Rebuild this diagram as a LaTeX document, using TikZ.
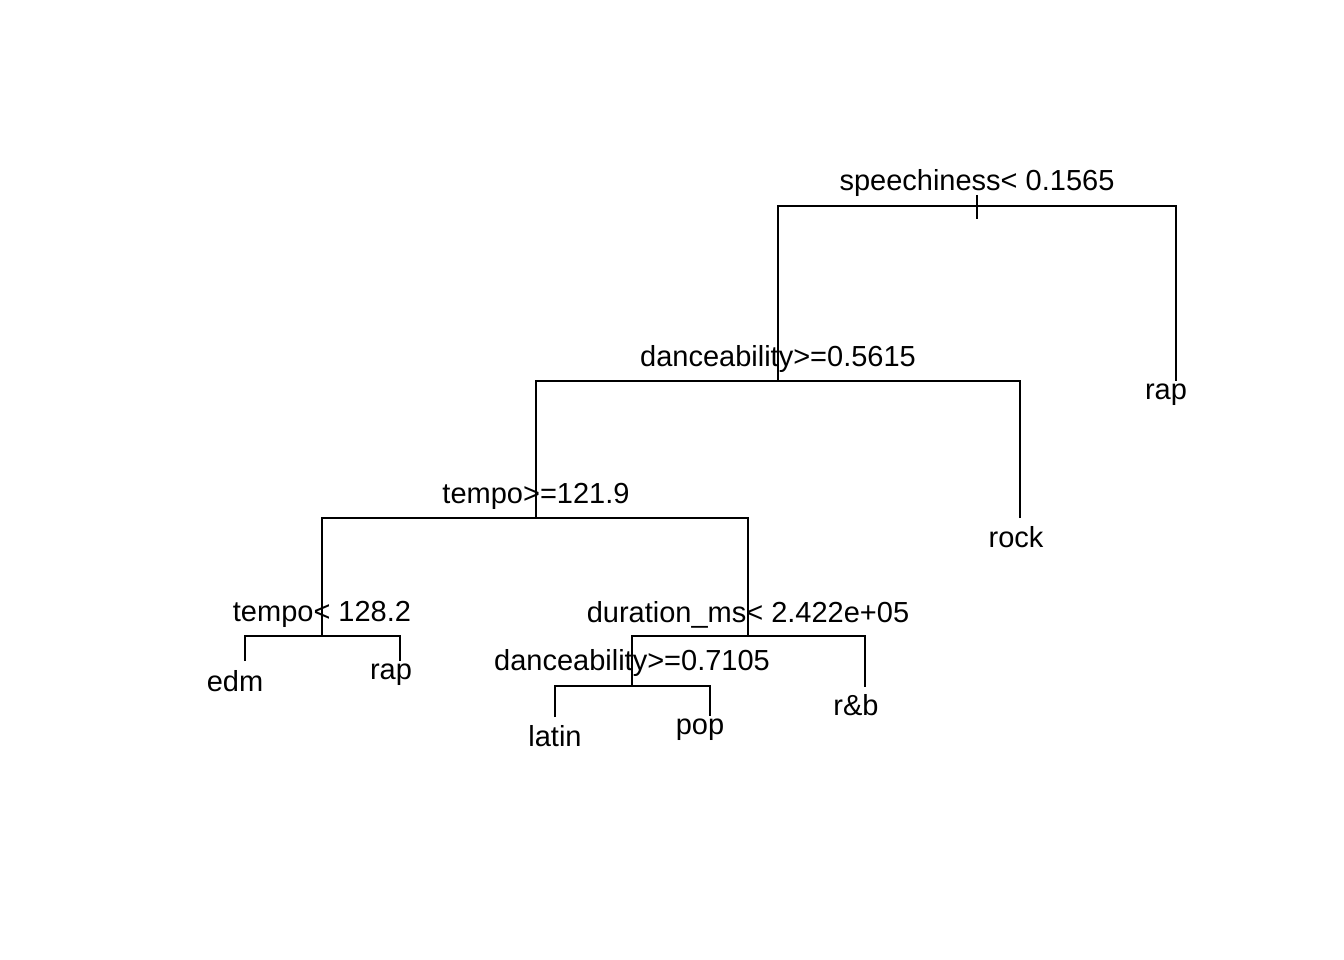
\documentclass[tikz,border=0pt]{standalone}
\usepackage{fontspec}
\setmainfont{Liberation Sans}
\begin{document}
\begin{tikzpicture}[x=1pt,y=-1pt,line width=1.4pt,
  lab/.style={font=\fontsize{29}{30}\selectfont,inner sep=0pt,anchor=center}]
\useasboundingbox (0,0) rectangle (1344,960);
% split coordinates
\coordinate (s1) at (977,206);
\coordinate (s1l) at (778,206); \coordinate (s1r) at (1176,206);
\coordinate (s2l) at (536,381); \coordinate (s2r) at (1020,381);
\coordinate (s3l) at (322,518); \coordinate (s3r) at (748,518);
\coordinate (s4l) at (245,636); \coordinate (s4r) at (400,636);
\coordinate (s5l) at (632,636); \coordinate (s5r) at (865,636);
\coordinate (s6l) at (555,686); \coordinate (s6r) at (710,686);
\coordinate (lrap1) at (1176,381); \coordinate (lrock) at (1020,518);
\coordinate (ledm) at (245,661); \coordinate (lrap2) at (400,661);
\coordinate (lrb) at (865,687); \coordinate (llatin) at (555,717);
\coordinate (lpop) at (710,716);
\coordinate (t1) at (977,195); \coordinate (t2) at (977,219);
% lines
\draw (t1) -- (t2);
\draw (s1l |- s2l) -- (s1l) -- (s1r) -- (lrap1);
\draw (lrock) -- (s2r) -- (s2l) -- (s2l |- s3l);
\draw (s3l |- s4l) -- (s3l) -- (s3r) -- (s3r |- s5l);
\draw (ledm) -- (s4l) -- (s4r) -- (lrap2);
\draw (s5l |- s6l) -- (s5l) -- (s5r) -- (lrb);
\draw (llatin) -- (s6l) -- (s6r) -- (lpop);
% labels
\node[lab] (n1) at (977,183) {speechiness< 0.1565};
\node[lab] (n2) at (778,359) {danceability>=0.5615};
\node[lab] (n3) at (536,496) {tempo>=121.9};
\node[lab] (n4) at (322,614) {tempo< 128.2};
\node[lab] (n5) at (748,615) {duration\_ms< 2.422e+05};
\node[lab] (n6) at (632,663) {danceability>=0.7105};
\node[lab] (a) at (1166,395) {rap};
\node[lab] (b) at (1016,537) {rock};
\node[lab] (c) at (235,681) {edm};
\node[lab] (d) at (391,675) {rap};
\node[lab] (e) at (555,736) {latin};
\node[lab] (f) at (700,730) {pop};
\node[lab] (g) at (856,705) {r\&b};
\end{tikzpicture}
\end{document}
